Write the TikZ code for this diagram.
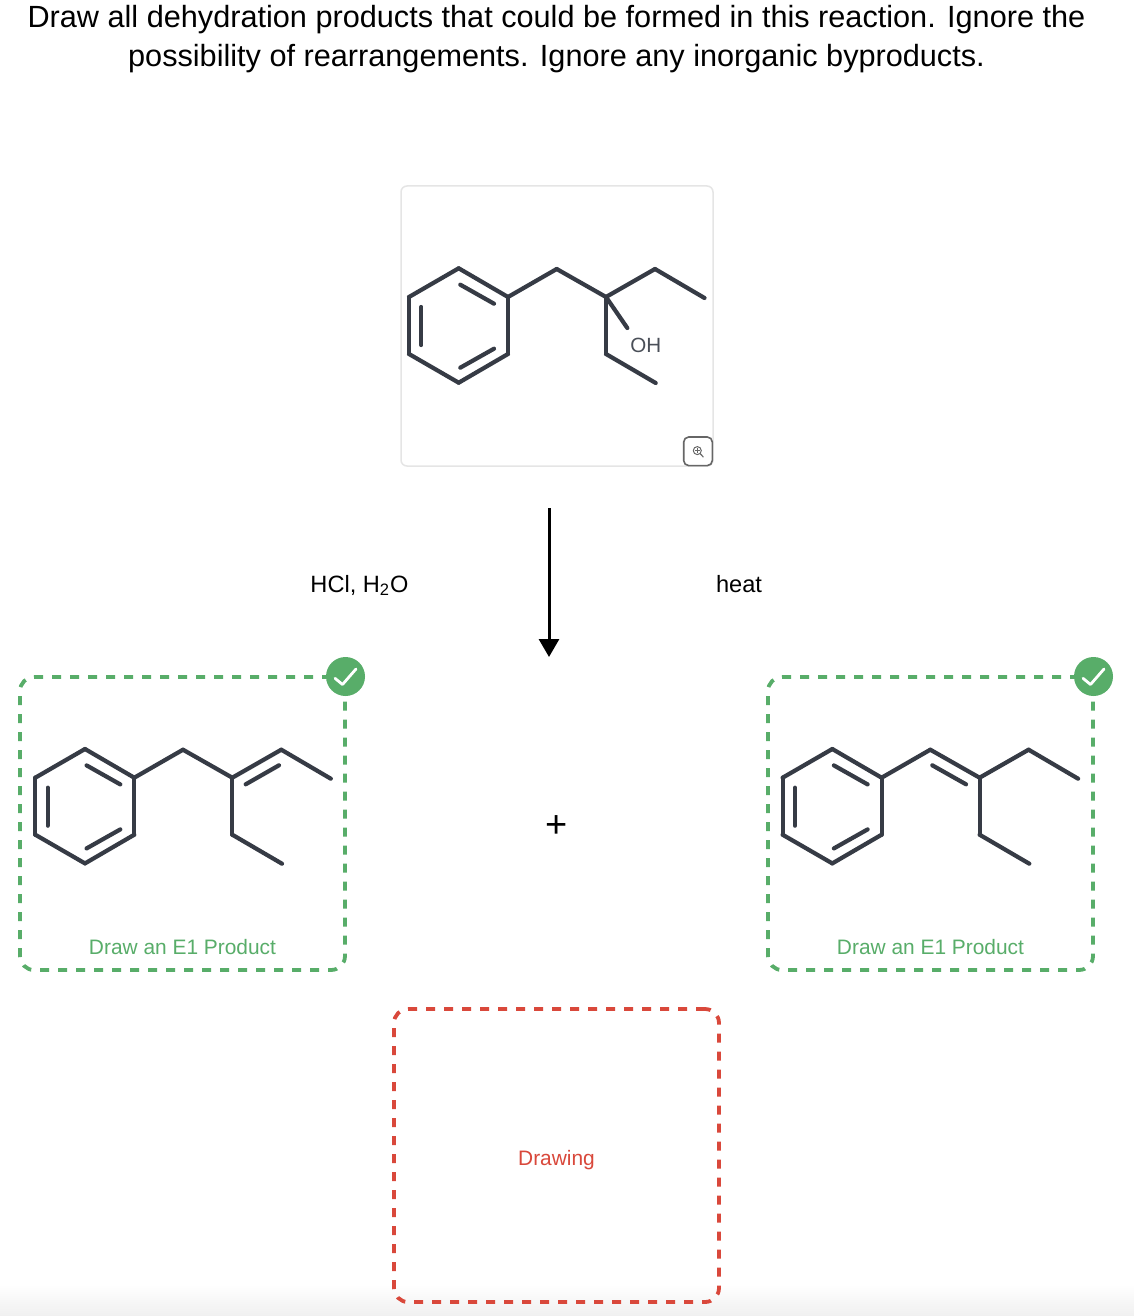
\documentclass[tikz,border=0pt]{standalone}
\usepackage{fontspec}
\setmainfont{Liberation Sans}
\usetikzlibrary{positioning}
\usetikzlibrary{arrows.meta}
\usetikzlibrary{calc}
\definecolor{bondgray}{HTML}{363B45}
\definecolor{okgreen}{HTML}{58AD69}
\definecolor{badred}{HTML}{D9483B}
\tikzstyle{bond} = [draw=bondgray,line width=2.1pt,line cap=round,line join=round]
\tikzstyle{answerbox} = [draw,line width=1.9pt,dash pattern=on 4.5pt off 4.5pt,rounded corners=7pt,minimum width=162.5pt,minimum height=146.5pt,inner sep=0pt]
\tikzstyle{boxlabel} = [font=\fontsize{10.45}{13}\selectfont]
\tikzstyle{condition} = [font=\fontsize{11.8}{14}\selectfont,text=black]
\tikzstyle{okdot} = [circle,fill=okgreen,minimum size=19.5pt,inner sep=0pt]
\tikzstyle{tick} = [draw=white,line width=1.4pt,line cap=round,line join=round]

\begin{document}
\begin{tikzpicture}[x=0.5pt,y=-0.5pt]
  \useasboundingbox (0,0) rectangle (1134,1316);
  \fill[white] (0,0) rectangle (1134,1316);
  \shade[top color=white,bottom color=black!6,draw=none] (0,1284) rectangle (1134,1316);

% Question
  \node[font=\fontsize{15.33}{19.5}\selectfont,align=center] (question) at (556.5,39) {Draw all dehydration products that could be formed in this reaction. Ignore the\\possibility of rearrangements. Ignore any inorganic byproducts.};

% Carbon skeletons
  \foreach \mol/\dx/\dy in {s/0/0,l/-373.7/480.7,p/373.6/480.7}{
    \begin{scope}[shift={(\dx,\dy)}]
      \foreach \px/\py/\atom in {458.7/268.3/r1,508/297/r2,508/354/r3,458.7/382.7/r4,409/354/r5,409/297/r6,
          556.7/269/c1,606/297/c2,655/269/c3,704.5/298/c4,606/354/c5,655.7/383/c6,
          460.3/284.7/i1,494/303.7/i2,421.3/307/i3,421.3/345/i4,460.3/367.7/i5,494/348.7/i6}
        \coordinate (\mol\atom) at (\px,\py);
      \foreach \source/\dest in {r1/r2,r2/r3,r3/r4,r4/r5,r5/r6,r6/r1,i1/i2,i3/i4,i5/i6,r2/c1,c1/c2,c2/c3,c3/c4,c2/c5,c5/c6}
        \path[bond] (\mol\source) -- (\mol\dest);
    \end{scope}
  }

% Starting material
  \node[draw=black!10,line width=0.75pt,rounded corners=3pt,minimum width=156pt,minimum height=140pt,inner sep=0pt] (frame) at (557,326) {};
  \coordinate (ohend) at (627.3,328);
  \path[bond] (sc2) -- (ohend);
  \node[font=\fontsize{10.3}{12}\selectfont,text=bondgray!90] (oh) at (645.7,345) {OH};

% Zoom button
  \node[draw=black!60,fill=white,line width=0.8pt,rounded corners=2.5pt,minimum size=14.3pt,inner sep=0pt] (zoombtn) at (698,451.3) {};
  \node[circle,draw=black!60,line width=0.5pt,minimum size=4pt,inner sep=0pt] (lens) at (697.3,450.6) {};
  \coordinate (lensend) at (703.3,457);
  \draw[black!60,line width=0.6pt,line cap=round] (lens) -- (lensend);
  \draw[black!60,line width=0.35pt] ($(lens)+(-2.5,0)$) -- ($(lens)+(2.5,0)$) ($(lens)+(0,-2.5)$) -- ($(lens)+(0,2.5)$);

% Reaction arrow
  \coordinate (arrowtop) at (549,508);
  \coordinate (arrowend) at (549,657);
  \draw[line width=1.5pt,-{Triangle[length=9pt,width=10pt]}] (arrowtop) -- (arrowend);
  \node[condition] (reagent) at (359.5,585.5) {HCl, H\textsubscript{2}O};
  \node[condition] (heat) at (739,584) {heat};
  \node[font=\fontsize{19}{22}\selectfont] (plus) at (556.5,827) {+};

% Left product
  \node[answerbox,draw=okgreen] (leftbox) at (182.5,823.5) {};
  \coordinate (ld1) at (245.7,784.3);
  \coordinate (ld2) at (279,765.3);
  \path[bond] (ld1) -- (ld2);
  \node[boxlabel,text=okgreen] (leftlabel) at (182.5,947) {Draw an E1 Product};
  \node[okdot] (leftok) at (345.5,676.5) {};
  \draw[tick] ($(leftok)+(-10.5,1.8)$) -- ($(leftok)+(-3,8)$) -- ($(leftok)+(10.5,-7.5)$);

% Right product
  \node[answerbox,draw=okgreen] (rightbox) at (930.5,823.5) {};
  \coordinate (pd1) at (932.3,765.3);
  \coordinate (pd2) at (966,784.3);
  \path[bond] (pd1) -- (pd2);
  \node[boxlabel,text=okgreen] (rightlabel) at (930.5,947) {Draw an E1 Product};
  \node[okdot] (rightok) at (1093.5,676.5) {};
  \draw[tick] ($(rightok)+(-10.5,1.8)$) -- ($(rightok)+(-3,8)$) -- ($(rightok)+(10.5,-7.5)$);

% Empty box
  \node[answerbox,draw=badred] (drawbox) at (556.5,1155.5) {};
  \node[boxlabel,text=badred] (drawlabel) at (556.5,1160) {Drawing};
\end{tikzpicture}
\end{document}
